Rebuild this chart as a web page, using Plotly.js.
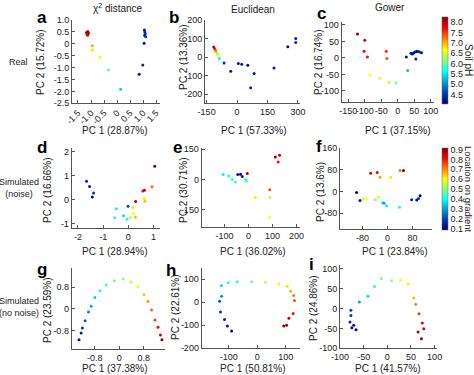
<!DOCTYPE html>
<html><head><meta charset="utf-8">
<script src="https://cdn.plot.ly/plotly-3.0.1.min.js"></script>
<style>html,body{margin:0;padding:0;background:#fff}#c{width:474px;height:375px}</style>
</head><body><div id="c"></div>
<script>
// ---- data ----
// Row 1: real data, colour = soil pH
const aX = [-1.17,-1.12,-1.15,-1.10,-1.13,-0.95,-0.95,-0.65,-0.33,0.14,0.85,0.99,1.04,1.05,1.07,1.08,1.06,1.10];
const aY = [0.47,0.52,0.40,0.44,0.36,-0.08,-0.26,-0.57,-1.10,-1.91,-1.28,-0.89,0.02,0.58,0.50,0.42,0.35,0.30];
const aC = [8.1,8.0,7.9,8.2,7.8,7.1,6.8,6.6,6.0,5.4,4.3,4.4,4.3,4.2,4.4,4.5,4.3,4.6];
const bX = [-115,-110,-105,-100,-95,-87,-64,-31,6,23,53,84,67,182,250,289,289];
const bY = [55,45,35,22,10,-7,-31,-76,-34,-38,-43,-88,-164,-58,56,101,79];
const bC = [8.1,7.7,7.3,6.9,6.5,5.6,4.4,4.3,4.3,4.4,4.2,4.3,4.4,4.3,4.2,4.3,4.4];
const cX = [-122,-100,-102,-92,-35,-33,-85,-55,-27,-5,30,26,55,40,44,48,52,56,60,66,72];
const cY = [73,54,20,3,20,-2,-52,-62,-74,-76,-38,3,-3,14,12,15,18,19,20,18,16];
const cC = [8.2,7.9,7.8,7.7,7.6,7.4,6.7,6.6,6.4,6.2,5.3,4.3,4.3,4.4,4.3,4.2,4.4,4.3,4.2,4.4,4.3];
// Row 2: simulated with noise, colour = location on gradient
const dX = [-1.66,-1.54,-1.38,-1.43,-0.47,-0.54,-0.19,-0.05,-0.01,0.08,0.18,0.21,0.28,0.29,0.58,0.64,0.63,0.66,0.94,1.05];
const dY = [0.77,0.55,0.29,0.12,-0.37,-0.74,-0.66,-0.80,-0.27,-0.73,-0.32,-0.57,-0.72,-0.07,0.37,0.40,0.05,-0.06,0.54,1.40];
const dC = [0.12,0.15,0.18,0.10,0.38,0.42,0.36,0.40,0.20,0.55,0.62,0.60,0.66,0.88,0.82,0.85,0.62,0.65,0.72,0.90];
const eX = [-105,-82,-68,-54,-45,-33,-26,-12,-8,-5,29,89,89,89,112,130,124];
const eY = [25,18,0,-12,25,26,16,0,-8,30,-89,-50,-89,-188,112,120,87];
const eC = [0.38,0.40,0.42,0.45,0.12,0.10,0.15,0.44,0.47,0.88,0.62,0.75,0.55,0.60,0.90,0.85,0.80];
const fX = [-99,-88,-79,-69,-54,-33,-24,-39,-29,-15,-11,-3,10,38,40,51,77,93,99,104];
const fY = [-3,-33,-27,-28,68,71,53,-30,-21,-41,-43,-52,53,-58,78,78,-30,-31,-25,-15];
const fC = [0.10,0.13,0.55,0.60,0.85,0.82,0.68,0.52,0.58,0.35,0.30,0.38,0.62,0.40,0.72,0.90,0.15,0.12,0.18,0.10];
// Row 3: simulated without noise
const gX = [-1.32,-1.25,-1.21,-1.12,-1.01,-0.92,-0.80,-0.63,-0.43,-0.16,0.13,0.38,0.61,0.81,0.94,1.06,1.17,1.27,1.35,1.40];
const gY = [-1.14,-0.89,-0.70,-0.44,-0.11,0.10,0.42,0.67,0.88,1.04,1.10,0.99,0.82,0.53,0.27,-0.04,-0.41,-0.68,-0.96,-1.14];
const gC = [0.10,0.14,0.18,0.22,0.27,0.31,0.35,0.39,0.43,0.48,0.52,0.56,0.60,0.65,0.69,0.73,0.77,0.81,0.86,0.90];
const hX = [-90,-105,-115,-129,-132,-125,-126,-102,-70,-20,29,76,105,117,128,131,126,111,103,93];
const hY = [-125,-103,-75,-43,4,26,72,84,88,88,86,79,69,47,29,7,-49,-70,-100,-103];
const hC = [0.10,0.12,0.15,0.18,0.22,0.28,0.36,0.40,0.44,0.48,0.55,0.60,0.63,0.67,0.71,0.74,0.80,0.84,0.88,0.90];
const iX = [-66,-75,-71,-79,-77,-77,-59,-41,-27,-13,9,28,44,56,60,67,74,77,65,72];
const iY = [-53,-48,-42,-34,-17,-4,17,31,56,76,70,72,62,27,11,-13,-36,-51,-59,-76];
const iC = [0.10,0.12,0.14,0.16,0.18,0.20,0.30,0.36,0.42,0.48,0.52,0.58,0.62,0.66,0.70,0.76,0.82,0.86,0.88,0.90];

const panelLetters = ['a','b','c','d','e','f','g','h','i'];
const colTitles = ['χ<sup>2</sup> distance','Euclidean','Gower'];
const rowLabels = ['Real','Simulated<br>(noise)','Simulated<br>(no noise)'];
const xTitles = ['PC 1 (28.87%)','PC 1 (57.33%)','PC 1 (37.15%)','PC 1 (28.94%)','PC 1 (36.02%)','PC 1 (23.84%)','PC 1 (37.38%)','PC 1 (50.81%)','PC 1 (41.57%)'];
const yTitles = ['PC 2 (15.72%)','PC 2 (13.36%)','PC 2 (16.74%)','PC 2 (16.66%)','PC 2 (30.71%)','PC 2 (13.6%)','PC 2 (23.59%)','PC 2 (22.61%)','PC 2 (24.86%)'];
const phTicks = [4.5,5.0,5.5,6.0,6.5,7.0,7.5,8.0];
const phTickText = ['4.5','5.0','5.5','6.0','6.5','7.0','7.5','8.0'];
const locTicks = [0.1,0.2,0.3,0.4,0.5,0.6,0.7,0.8,0.9];
const xTickVals = [[-1.5,-1,-0.5,0,0.5,1,1.5],[-150,0,150,300],[-150,-100,-50,0,50,100],[-2,-1,0,1],[-200,-100,0,100,200],[-80,0,80],[-0.8,0,0.8],[-200,-100,0,100],[-100,-50,0,50,100]];
const xTickText = [['-1.5','-1.0','-0.5','0','0.5','1.0','1.5'],null,null,null,null,null,null,null,null];
const yTickVals = [[-2.5,-2,-1.5,-1,-0.5,0,0.5,1],[-200,-100,0,100,200],[-100,-50,0,50,100],[-1,0,1,2],[-150,0,150],[-80,0,80,160],[-0.8,0,0.8],[-200,-100,0,100],[-100,-50,0,50,100]];
const yTickText = [['-2.5','-2.0','-1.5','-1.0','-0.5','0','0.5','1.0'],null,null,null,null,null,null,null,null];

// ---- layout geometry (pixels) ----
const W = 474, H = 375;
const boxes = [ // [left, right, top, bottom]
  [72,160,20,103.3],[205,300,20,102.7],[341.7,434,21.7,101.7],
  [71.7,160,148.3,228.3],[201.7,300,148.3,227.3],[340,432,148.3,229.3],
  [71.7,165,268,349.3],[201.7,300,268,348.3],[340,437,265,348.3]];
const xRanges = [[-1.73,1.65],[-158,310],[-170,110],[-2.25,1.26],[-195,215],[-152,142],[-1.56,1.5],[-195,150],[-100,105]];
const yRanges = [[-2.5,1.0],[-245,200],[-133,110],[-1.18,2.14],[-236,155],[-139,160],[-1.49,1.51],[-200,148],[-100,110]];

const jet = [[0,'rgb(0,0,131)'],[0.125,'rgb(0,60,170)'],[0.375,'rgb(5,255,255)'],[0.625,'rgb(255,255,0)'],[0.875,'rgb(250,0,0)'],[1,'rgb(128,0,0)']];
const FONT = 'Liberation Sans, Arial, sans-serif';
const TICK = 9;

const xs = [aX,bX,cX,dX,eX,fX,gX,hX,iX];
const ys = [aY,bY,cY,dY,eY,fY,gY,hY,iY];
const cs = [aC,bC,cC,dC,eC,fC,gC,hC,iC];
const lab = v => String(v);

const traces = [];
const layout = {
  width: W, height: H, margin: {l:0,r:0,t:0,b:0}, showlegend: false,
  paper_bgcolor: '#fff', plot_bgcolor: 'rgba(0,0,0,0)',
  font: {family: FONT, size: 10, color: '#222'},
  annotations: []
};
for (let k = 0; k < 9; k++) {
  const n = k === 0 ? '' : String(k + 1);
  const row = Math.floor(k / 3);
  const ph = row === 0;
  const tr = {
    type: 'scatter', mode: 'markers', x: xs[k], y: ys[k],
    xaxis: 'x' + n, yaxis: 'y' + n, hoverinfo: 'skip',
    marker: {size: 3, color: cs[k], colorscale: jet,
      cmin: ph ? 4.06 : 0.085, cmax: ph ? 8.27 : 0.915, showscale: false, line: {width: 0}}
  };
  if (k === 2 || k === 5) {
    tr.marker.showscale = true;
    tr.marker.colorbar = {
      x: 442 / W, xanchor: 'left', xpad: 0, ypad: 0,
      y: ph ? 1 - 60 / H : 1 - 189 / H, yanchor: 'middle',
      lenmode: 'pixels', len: ph ? 87 : 82, thickness: 6,
      outlinewidth: 0.5, outlinecolor: '#666',
      tickvals: ph ? phTicks : locTicks, ticktext: ph ? phTickText : locTicks.map(lab),
      ticks: '', ticklabelpad: 1, tickfont: {size: TICK, color: '#222', family: FONT}
    };
  }
  traces.push(tr);
  const b = boxes[k];
  const axBase = {showline: true, linecolor: '#555', linewidth: 1, ticks: 'inside', ticklen: 3,
    tickcolor: '#555', showgrid: false, zeroline: false, mirror: false, fixedrange: true,
    tickfont: {size: TICK, color: '#222', family: FONT}};
  layout['xaxis' + n] = Object.assign({}, axBase, {
    domain: [b[0] / W, b[1] / W], range: xRanges[k], anchor: 'y' + n,
    tickmode: 'array', tickvals: xTickVals[k], ticktext: xTickText[k] || xTickVals[k].map(lab),
    tickangle: k === 0 ? -45 : 0});
  layout['yaxis' + n] = Object.assign({}, axBase, {
    domain: [1 - b[3] / H, 1 - b[2] / H], range: yRanges[k], anchor: 'x' + n,
    tickmode: 'array', tickvals: yTickVals[k], ticktext: yTickText[k] || yTickVals[k].map(lab)});
}

function ann(text, x, y, opts) {
  layout.annotations.push(Object.assign({text: text, x: x / W, y: 1 - y / H, xref: 'paper', yref: 'paper',
    showarrow: false, xanchor: 'center', yanchor: 'middle', font: {size: 10, color: '#222', family: FONT}}, opts || {}));
}
// panel letters
const letterPos = [[42,17],[174,17],[321,14],[42,147],[177,147],[319,146],[42,269],[171,270],[311,264]];
panelLetters.forEach((t, k) => ann('<b>' + t + '</b>', letterPos[k][0], letterPos[k][1], {font: {size: 17, color: '#000', family: FONT}}));
// column titles
const colPos = [[118,8],[253,9],[390,8]];
colTitles.forEach((t, k) => ann(t, colPos[k][0], colPos[k][1]));
// row labels
const rowPos = [[18,62],[19,188],[19,307]];
rowLabels.forEach((t, k) => ann(t, rowPos[k][0], rowPos[k][1], {font: {size: 9, color: '#222', family: FONT}}));
// x titles
const xtPos = [[115,131],[254,131],[398,131],[115,251],[253,251],[395,251],[115,368],[253,368],[388,368]];
xTitles.forEach((t, k) => ann(t, xtPos[k][0], xtPos[k][1]));
// y titles
const ytPos = [[40,62],[183,57],[318,62],[47,190],[183,190],[320,192],[47,310],[175,307],[313,308]];
yTitles.forEach((t, k) => ann(t, ytPos[k][0], ytPos[k][1], {textangle: -90}));
// colorbar titles
ann('Soil pH', 469, 60, {textangle: 90, font: {size: 10, color: '#222', family: FONT}});
ann('Location on gradient', 469, 189, {textangle: 90, font: {size: 9.5, color: '#222', family: FONT}});

Plotly.newPlot('c', traces, layout, {staticPlot: true, displayModeBar: false});
</script></body></html>
